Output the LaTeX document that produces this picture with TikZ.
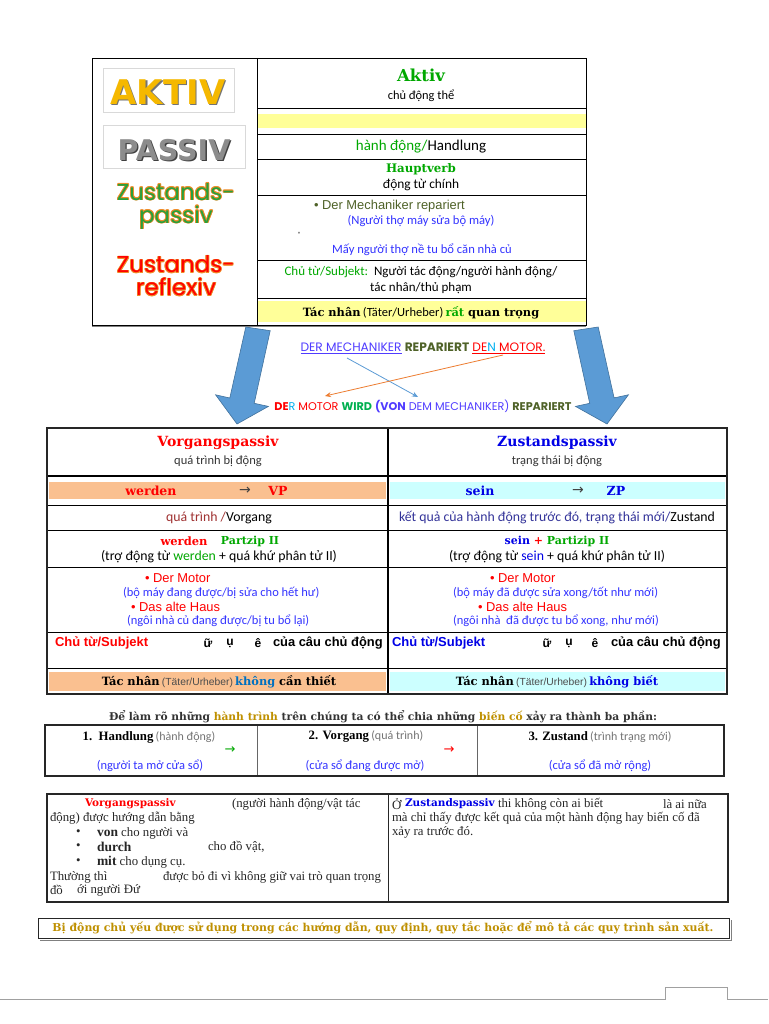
\documentclass[tikz,border=0pt]{standalone}
\usepackage{fontspec}
\setmainfont{Carlito}
\newfontfamily\dvs{DejaVu Serif}
\newfontfamily\dvsans{DejaVu Sans}
\newfontfamily\lsans{Liberation Sans}
\newfontfamily\lserif{Liberation Serif}
\newfontfamily\pop{Poppins}
\usetikzlibrary{arrows.meta}
\newcommand{\setfz}[1]{\fontsize{#1}{#1}\selectfont}
\definecolor{gA}{RGB}{0,168,0}
\definecolor{yel}{RGB}{255,255,153}
\definecolor{bluT}{RGB}{51,51,255}
\definecolor{olv}{RGB}{79,98,40}
\definecolor{orF}{RGB}{250,192,144}
\definecolor{cyF}{RGB}{204,255,255}
\definecolor{bluZ}{RGB}{0,0,230}
\definecolor{dred}{RGB}{160,50,50}
\definecolor{dblu}{RGB}{51,51,153}
\definecolor{gold}{RGB}{191,144,0}
\definecolor{arrB}{RGB}{91,155,213}
\definecolor{arrBd}{RGB}{65,113,156}
\definecolor{arrO}{RGB}{237,125,49}
\definecolor{cyanN}{RGB}{0,176,240}
\definecolor{gW}{RGB}{0,176,80}
\definecolor{akt}{RGB}{245,184,0}
\definecolor{zgreen}{RGB}{40,160,60}
\definecolor{zorange}{RGB}{240,140,40}
\definecolor{kblue}{RGB}{0,112,192}
\definecolor{gline}{RGB}{160,160,160}
\definecolor{vio}{RGB}{80,60,255}
\begin{document}
\begin{tikzpicture}[x=1pt,y=-1pt,
  T/.style={inner sep=0pt,outer sep=0pt},
  TL/.style={inner sep=0pt,outer sep=0pt,anchor=west},
  rule/.style={draw=black,line width=0.8pt},
  frame/.style={draw=black!85,line width=1.6pt},
  bigarrow/.style={fill=arrB,draw=arrBd,line width=0.6pt},
  thinarrow/.style={line width=0.8pt,-{Stealth[length=6pt,width=5pt]}},
  ]
\useasboundingbox (0,0) rectangle (768,1024);
\fill[white] (0,0) rectangle (768,1024);

% ---------- top box ----------
\fill[yel] (257,114) rectangle (586,128);
\fill[yel] (257,301) rectangle (586,322);
\draw[rule] (92,58) rectangle (586,325);
\draw[gray,line width=1.2pt] (92,326.2) -- (586,326.2);
\draw[rule] (257,58) -- (257,325);
\foreach \y in {108,134,159,195,260,298} \draw[rule] (257,\y) -- (586,\y);

% left cell logos
\draw[black!15,line width=1pt] (103,69) rectangle (234,113);
\node[T,text=black!55] (aktivS) at (169.3,93.3) {\dvsans\bfseries\setfz{34}AKTIV};
\node[T,text=akt] (aktiv) at (168,92) {\dvsans\bfseries\setfz{34}AKTIV};
\draw[black!15,line width=1pt] (103,126) rectangle (245,169);
\node[T,text=black!75] (passivS) at (175.3,151.3) {\dvsans\bfseries\setfz{28.5}PASSIV};
\node[T,text=black!45] (passiv) at (174,150) {\dvsans\bfseries\setfz{28.5}PASSIV};
\foreach \dx/\dy [count=\i] in {0.8/0,-0.8/0,0/0.8,0/-0.8,0.6/0.6,-0.6/0.6,0.6/-0.6,-0.6/-0.6} {
  \node[T,text=zorange,align=center,font=\pop\setfz{23}] (zpo\i) at (176+\dx,206+\dy) {Zustands-\\passiv};
  \node[T,text=zorange,align=center,font=\pop\setfz{23}] (zro\i) at (176+\dx,276+\dy) {Zustands-\\reflexiv};
}
\node[T,text=zgreen,align=center,font=\pop\setfz{23}] (zp) at (176,206) {Zustands-\\passiv};
\node[T,text=red,align=center,font=\pop\setfz{23}] (zr) at (176,276) {Zustands-\\reflexiv};

% right cell texts
\node[T,text=gA] (aktivT) at (421,75) {\dvs\bfseries\setfz{16.5}Aktiv};
\node[T] (chudong) at (421,96) {\setfz{12.4}chủ động thể};
\node[T] (handlung) at (421,147) {\setfz{15}{\color{gA}hành động/}Handlung};
\node[T,text=gA] (hauptverb) at (421,169) {\dvs\bfseries\setfz{11.8}Hauptverb};
\node[T] (dongtu) at (421,185) {\setfz{13.4}động từ chính};
\node[TL,text=olv] (mech) at (314,206) {\lsans\setfz{12.9}• Der Mechaniker repariert};
\node[T,text=bluT] (nguoitho) at (421,221) {\setfz{12.6}(Người thợ máy sửa bộ máy)};
\node[T,text=black!50] (dot2) at (299,234) {\lsans\setfz{7}•};
\node[T,text=bluT] (may) at (422,250) {\setfz{12.6}Mấy người thợ nề tu bổ căn nhà củ};
\node[T] (chutu1) at (421,272) {\setfz{13}{\color{gA}Chủ từ/Subjekt:}\ \ Người tác động/người hành động/};
\node[T] (chutu2) at (421,288) {\setfz{13}tác nhân/thủ phạm};
\node[T] (tacnhan1) at (421,313) {{\dvs\bfseries\setfz{11.4}Tác nhân} {\setfz{12.5}(Täter/Urheber)} {\dvs\bfseries\setfz{11.4}{\color{gA}rất} quan trọng}};

% ---------- big arrows ----------
\draw[bigarrow] (245.8,327) -- (270.2,330.7) -- (254.2,403.3) -- (268.4,406.4) -- (237,424) -- (215.6,394.8) -- (229.8,398) -- cycle;
\draw[bigarrow] (573.8,330.7) -- (598.2,327) -- (614.1,397.9) -- (628.4,394.8) -- (607,424) -- (575.5,406.4) -- (589.7,403.3) -- cycle;

% ---------- sentences ----------
\node[T] (s1) at (423,348) {\pop\setfz{12.2}{\color{vio}\underline{DER MECHANIKER}} {\color{olv}\bfseries REPARIERT} {\color{red}\underline{DE{\color{cyanN}N} MOTOR.}}};
\node[T] (s2) at (423,406) {\pop\setfz{11.2}{\color{red}\bfseries DE}{\color{cyanN}R} {\color{red}MOTOR} {\color{gW}\bfseries WIRD} {\color{vio}\bfseries (VON} {\color{vio}DEM MECHANIKER)} {\color{olv}\bfseries REPARIERT}};
\coordinate (mechU) at (347,358);
\coordinate (demT) at (418,397);
\coordinate (motU) at (503,355);
\coordinate (motT) at (325,396);
\draw[thinarrow,arrB] (mechU) -- (demT);
\draw[thinarrow,arrO] (motU) -- (motT);

% ---------- main table ----------
\fill[orF] (49,482) rectangle (386,499);
\fill[cyF] (390,482) rectangle (725,499);
\fill[orF] (49,672) rectangle (386,691);
\fill[cyF] (390,672) rectangle (725,691);
\draw[rule,line width=1.3pt] (47,476) -- (727,476);
\foreach \y in {505,530,567,632,668} \draw[rule] (47,\y) -- (727,\y);
\draw[rule,line width=1.2pt] (388,428) -- (388,694);
\draw[frame] (47,428) rectangle (727,694);

\node[T,text=red] (vp) at (218,443) {\dvs\bfseries\setfz{14}Vorgangspassiv};
\node[T,text=black!80] (vpsub) at (218,461) {\setfz{12.5}quá trình bị động};
\node[T,text=bluZ] (zpT) at (557,443) {\dvs\bfseries\setfz{14}Zustandspassiv};
\node[T,text=black!80] (zpsub) at (557,461) {\setfz{12.5}trạng thái bị động};

\node[T,text=red] (werden1) at (151,491) {\dvs\bfseries\setfz{12.5}werden};
\node[T,text=black!75] (ar1) at (245,491) {\dvsans\setfz{14}→};
\node[T,text=red] (vpR) at (278,491) {\dvs\bfseries\setfz{12.5}VP};
\node[T,text=bluZ] (sein1) at (480,491) {\dvs\bfseries\setfz{12.5}sein};
\node[T,text=black!75] (ar2) at (578,491) {\dvsans\setfz{14}→};
\node[T,text=bluZ] (zpR) at (616,491) {\dvs\bfseries\setfz{12.5}ZP};

\node[T] (vorgang) at (219,518) {\setfz{13.8}{\color{dred}quá trình /}Vorgang};
\node[T] (zustand) at (557,518) {\setfz{13.8}{\color{dblu}kết quả của hành động trước đó, trạng thái mới/}Zustand};

\node[T,text=red] (werden2) at (184,541) {\dvs\bfseries\setfz{11.5}werden};
\node[T,text=gA] (partzip) at (250,541) {\dvs\bfseries\setfz{11}Partzip II};
\node[T] (trodt1) at (219,557) {\setfz{13.8}(trợ động từ {\color{gA}werden} + quá khứ phân tử II)};
\node[T] (seinp) at (557,541) {\dvs\bfseries\setfz{11}{\color{bluZ}sein} {\color{red}+} {\color{gA}Partizip II}};
\node[T] (trodt2) at (557,557) {\setfz{13.8}(trợ động từ {\color{bluZ}sein} + quá khứ phân tử II)};

\node[TL,text=red] (dm1) at (145,578) {\lsans\setfz{12.9}• Der Motor};
\node[TL,text=bluT] (bm1) at (123,593) {\setfz{12.5}(bộ máy đang được/bị sửa cho hết hư)};
\node[TL,text=red] (dh1) at (131,607) {\lsans\setfz{12.9}• Das alte Haus};
\node[TL,text=bluT] (nn1) at (127,621) {\setfz{12.5}(ngôi nhà củ đang được/bị tu bổ lại)};
\node[TL,text=red] (dm2) at (490,578) {\lsans\setfz{12.9}• Der Motor};
\node[TL,text=bluT] (bm2) at (453,593) {\setfz{12.5}(bộ máy đã được sửa xong/tốt như mới)};
\node[TL,text=red] (dh2) at (478,607) {\lsans\setfz{12.9}• Das alte Haus};
\node[TL,text=bluT] (nn2) at (453,621) {\setfz{12.5}(ngôi nhà\ \ đã được tu bổ xong, như mới)};

\node[TL,text=red] (ct1) at (55,643) {\lsans\bfseries\setfz{13}Chủ từ/Subjekt};
\node[T] (u1a) at (208,643) {\lsans\bfseries\setfz{12}ữ};
\node[T] (u1b) at (230,643) {\lsans\bfseries\setfz{12}ụ};
\node[T] (u1c) at (258,643) {\lsans\bfseries\setfz{12}ê};
\node[TL] (cua1) at (273,643) {\lsans\bfseries\setfz{12.9}của câu chủ động};
\node[TL,text=bluZ] (ct2) at (392,643) {\lsans\bfseries\setfz{13}Chủ từ/Subjekt};
\node[T] (u2a) at (547,643) {\lsans\bfseries\setfz{12}ữ};
\node[T] (u2b) at (569,643) {\lsans\bfseries\setfz{12}ụ};
\node[T] (u2c) at (595,643) {\lsans\bfseries\setfz{12}ê};
\node[TL] (cua2) at (611,643) {\lsans\bfseries\setfz{12.9}của câu chủ động};

\node[T] (tn2) at (219,682) {{\dvs\bfseries\setfz{11.4}Tác nhân} {\lsans\setfz{10.3}\color{black!70}(Täter/Urheber)} {\dvs\bfseries\setfz{11.4}{\color{kblue}không} cần thiết}};
\node[T] (tn3) at (557,682) {{\dvs\bfseries\setfz{11.4}Tác nhân} {\lsans\setfz{10.3}\color{black!70}(Täter/Urheber)} {\dvs\bfseries\setfz{11.4}\color{bluZ}không biết}};

% ---------- three parts ----------
\node[T,text=black!80] (head) at (383,717) {\dvs\bfseries\setfz{10.7}Để làm rõ những {\color{gold}hành trình} trên chúng ta có thể chia những {\color{gold}biến cố} xảy ra thành ba phần:};
\draw[black!60,line width=0.6pt] (257,725) -- (257,776);
\draw[black!60,line width=0.6pt] (477,725) -- (477,776);
\draw[draw=black!85,line width=1.2pt] (45,725) rectangle (724,776);
\node[T] (p1) at (149,737) {{\lserif\bfseries\setfz{12.8}1.\ \ Handlung} {\setfz{12}\color{black!55}(hành động)}};
\node[T,text=gA] (pa1) at (230,750) {\dvsans\setfz{13}→};
\node[T,text=bluT] (p1b) at (150,766) {\setfz{12.5}(người ta mở cửa sổ)};
\node[T] (p2) at (366,737) {{\lserif\bfseries\setfz{12.8}2. Vorgang} {\setfz{12}\color{black!55}(quá trình)}};
\node[T,text=red] (pa2) at (449,750) {\dvsans\setfz{13}→};
\node[T,text=bluT] (p2b) at (365,766) {\setfz{12.5}(cửa sổ đang được mở)};
\node[T] (p3) at (600,737) {{\lserif\bfseries\setfz{12.8}3. Zustand} {\setfz{12}\color{black!55}(trình trạng mới)}};
\node[T,text=bluT] (p3b) at (600,766) {\setfz{12.5}(cửa sổ đã mở rộng)};

% ---------- bottom text box ----------
\draw[draw=black!85,line width=1.2pt] (47,794) rectangle (728,902);
\draw[black!85,line width=1pt] (388,794) -- (388,902);
\begin{scope}[every node/.style={TL,text=black!85,font=\lserif\setfz{12.8}}]
\node (l1a) at (85,804) {\dvs\bfseries\setfz{10.5}\color{red}Vorgangspassiv};
\node (l1b) at (232,804) {(người hành động/vật tác};
\node (l2) at (50,818) {động) được hướng dẫn bằng};
\node (b3) at (76,833) {•};
\node (l3) at (97,833) {{\bfseries\setfz{13.5}von} cho người và};
\node (b4) at (76,847) {•};
\node (l4a) at (97,847) {\bfseries\setfz{13.5}durch};
\node (l4b) at (208,847) {cho đồ vật,};
\node (b5) at (76,862) {•};
\node (l5) at (97,862) {{\bfseries\setfz{13.5}mit} cho dụng cụ.};
\node (l6a) at (50,877) {Thường thì};
\node (l6b) at (163,877) {được bỏ đi vì không giữ vai trò quan trọng};
\node (l7a) at (50,890) {đồ};
\node (l7b) at (77,890) {ới người Đứ};
\node (r1a) at (392,804) {Ở};
\node (r1b) at (405,804) {\dvs\bfseries\setfz{10.5}\color{bluZ}Zustandspassiv};
\node (r1c) at (498,804) {thi không còn ai biết};
\node (r1d) at (663,804) {là ai nữa};
\node (r2) at (392,818) {mà chỉ thấy được kết quả của một hành động hay biến cố đã};
\node (r3) at (392,832) {xảy ra trước đó.};
\end{scope}

% ---------- last line ----------
\draw[black!50,line width=1pt] (40,940) -- (731,940) -- (731,920);
\draw[draw=black!85,line width=1pt] (38,918) rectangle (729,938);
\node[T,text=gold] (last) at (383,928) {\dvs\bfseries\setfz{10.9}Bị động chủ yếu được sử dụng trong các hướng dẫn, quy định, quy tắc hoặc để mô tả các quy trình sản xuất.};

% ---------- footer ----------
\draw[gline,line width=0.8pt] (0,999) -- (665,999) -- (665,987) -- (727,987) -- (727,999) -- (768,999);
\end{tikzpicture}
\end{document}
